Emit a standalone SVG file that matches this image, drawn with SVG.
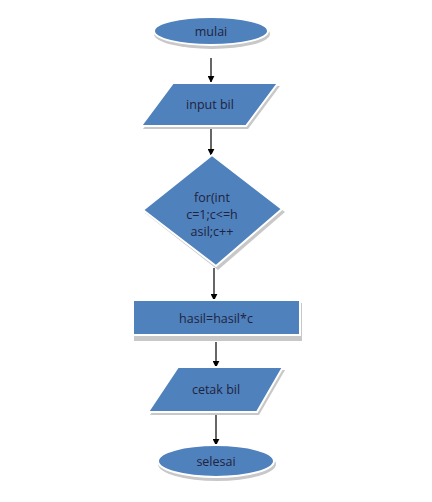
<svg xmlns="http://www.w3.org/2000/svg" width="432" height="502" viewBox="0 0 432 502">
<style>
.sh{fill:#c8c8c8;stroke:none}
.nd{fill:#4f81bd;stroke:#ffffff;stroke-width:2}
.tx{font-family:"Open Sans","Liberation Sans",sans-serif;font-size:12.5px;fill:#1f2340;text-anchor:middle;dominant-baseline:central}
.ln{stroke:#000;stroke-width:1.2;fill:none;marker-end:url(#ah)}
</style>
<defs>
<marker id="ah" viewBox="0 0 10 10" refX="9" refY="5" markerWidth="7" markerHeight="7" markerUnits="userSpaceOnUse" orient="auto">
<path d="M0,0 L10,5 L0,10 z" fill="#000"/>
</marker>
</defs>
<rect width="432" height="502" fill="#fff"/>
<g id="connectors">
<line class="ln" x1="211" y1="58" x2="211" y2="82"/>
<line class="ln" x1="211" y1="128" x2="211" y2="155"/>
<line class="ln" x1="214" y1="268" x2="214" y2="300"/>
<line class="ln" x1="216" y1="342" x2="216" y2="367"/>
<line class="ln" x1="216" y1="415" x2="216" y2="445"/>
</g>
<g id="mulai">
<ellipse class="sh" cx="212" cy="34" rx="58" ry="15"/>
<ellipse class="nd" cx="211" cy="31" rx="57" ry="14"/>
<text class="tx" x="211" y="31">mulai</text>
</g>
<g id="input">
<polygon class="sh" points="175,86 280,86 248,129 143,129"/>
<polygon class="nd" points="173,83 278,83 246,126 141,126"/>
<text class="tx" x="210" y="104">input bil</text>
</g>
<g id="for">
<polygon class="sh" points="214,158 285,212 218,270 145,213"/>
<polygon class="nd" points="212,155 282,209 216,266 143,210"/>
<text class="tx" x="212" y="197">for(int</text>
<text class="tx" x="212" y="214">c=1;c&lt;=h</text>
<text class="tx" x="212" y="231">asil;c++</text>
</g>
<g id="hasil">
<rect class="sh" x="134" y="303" width="168" height="38"/>
<rect class="nd" x="133" y="300" width="167" height="35"/>
<text class="tx" x="216" y="318">hasil=hasil*c</text>
</g>
<g id="cetak">
<polygon class="sh" points="180,370 285,370 259,415 150,415"/>
<polygon class="nd" points="178,367 283,367 257,412 148,412"/>
<text class="tx" x="216" y="389">cetak bil</text>
</g>
<g id="selesai">
<ellipse class="sh" cx="217" cy="464" rx="59" ry="17"/>
<ellipse class="nd" cx="216" cy="461" rx="58" ry="16"/>
<text class="tx" x="216" y="461">selesai</text>
</g>
</svg>
